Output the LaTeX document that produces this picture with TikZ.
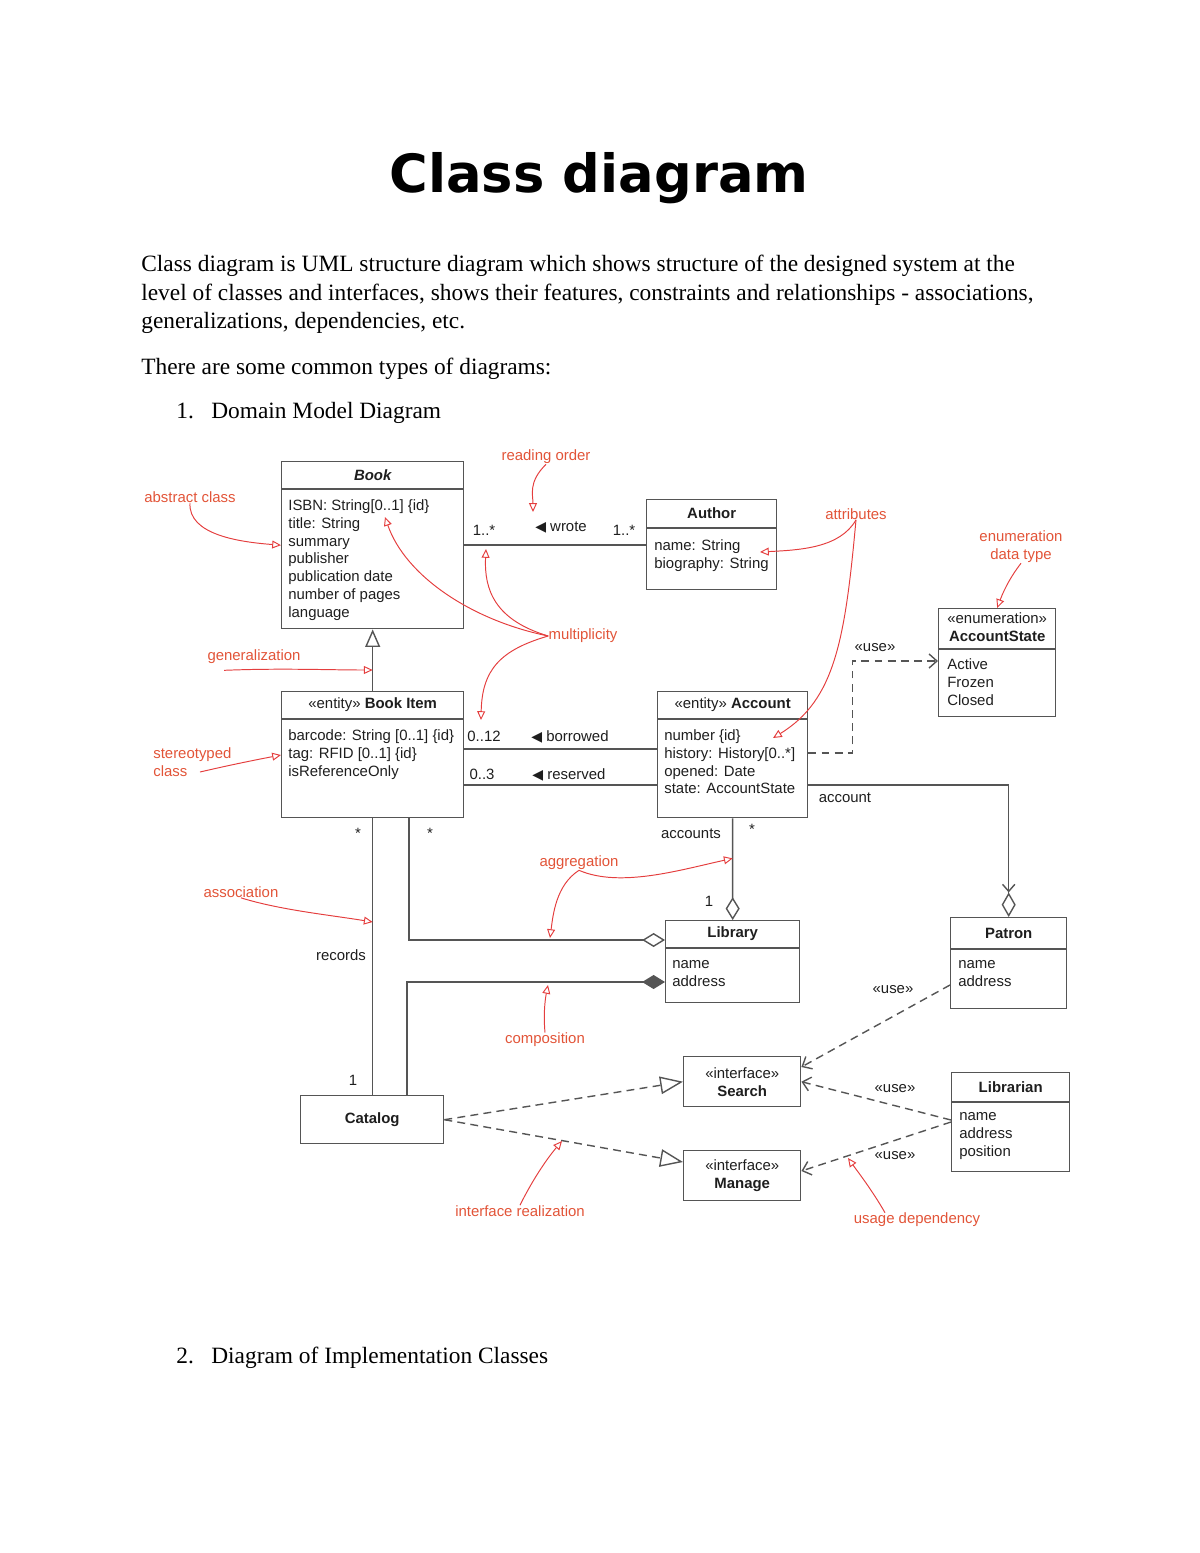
\documentclass[tikz,border=0pt]{standalone}
\usepackage{fontspec}
\setmainfont{Liberation Serif}
\newfontfamily\umlfont{Liberation Sans}
\newfontfamily\headfont{DejaVu Sans}
\usetikzlibrary{arrows.meta}
\usetikzlibrary{calc}
\definecolor{umlline}{RGB}{85,85,85}
\definecolor{umltext}{RGB}{30,30,30}
\definecolor{notetext}{RGB}{226,84,56}
\definecolor{noteline}{RGB}{228,62,62}
\newcommand{\rdir}{{\headfont\fontsize{8}{8}\selectfont ◀}}

\begin{document}
\begin{tikzpicture}
[x=0.02cm,y=-0.02cm,%
  cls/.style={draw=umlline,line width=0.8pt,anchor=north west,inner sep=0pt},%
  sep/.style={draw=umlline,line width=0.8pt},%
  hd/.style={inner sep=0pt,text=umltext,font=\umlfont\fontsize{8.5}{10.2}\selectfont\bfseries},%
  attr/.style={anchor=north west,align=left,inner sep=0pt,text=umltext,%
    font=\umlfont\fontsize{8.5}{10.2}\selectfont,execute at begin node=\strut},%
  lbl/.style={inner sep=0pt,text=umltext,font=\umlfont\fontsize{8.5}{10.2}\selectfont},%
  note/.style={inner sep=0pt,text=notetext,font=\umlfont\fontsize{8.5}{10.2}\selectfont},%
  txt/.style={anchor=base west,inner sep=0pt,font=\fontsize{13.3}{16}\selectfont},%
  assoc/.style={draw=umlline,line width=0.8pt},%
  dep/.style={assoc,dash pattern=on 4.5pt off 3pt},%
  gen/.style={assoc,-{Triangle[open,length=10pt,width=8.5pt]}},%
  real/.style={dep,-{Triangle[open,length=13pt,width=10pt]}},%
  usedep/.style={dep,-{Straight Barb[length=4.5pt,width=8pt]}},%
  agg/.style={assoc,-{Diamond[open,length=13pt,width=8pt]}},%
  comp/.style={assoc,-{Diamond[length=13pt,width=8pt]}},%
  ptr/.style={draw=noteline,line width=0.55pt,-{Triangle[open,length=5pt,width=4.5pt]}}]
\useasboundingbox (0,0) rectangle (1200,1553);

\node[anchor=base,inner sep=0pt,font=\headfont\fontsize{30}{36}\selectfont\bfseries] (title) at (599,192) {Class diagram};
\node[txt] (p1) at (141,271) {Class diagram is UML structure diagram which shows structure of the designed system at the};
\node[txt] (p2) at (141,300) {level of classes and interfaces, shows their features, constraints and relationships - associations,};
\node[txt] (p3) at (141,328) {generalizations, dependencies, etc.};
\node[txt] (p4) at (141,374) {There are some common types of diagrams:};
\node[txt] (n1) at (176,418) {1.};
\node[txt] (i1) at (211,418) {Domain Model Diagram};
\node[txt] (n2) at (176,1363) {2.};
\node[txt] (i2) at (211,1363) {Diagram of Implementation Classes};

\node[cls,minimum width=3.64cm,minimum height=3.34cm] (book) at (281,461) {};
\node[hd] (bookH) at ($(book.north)+(0,14)$) {\itshape Book};
\node[attr] (bookA) at ($(book.north west)+(7,38)$) {ISBN: String[0..1] \{id\}\\title: String\\summary\\publisher\\publication date\\number of pages\\language};
\draw[sep] ($(book.north west)+(0,28)$) -- ($(book.north east)+(0,28)$);

\node[cls,minimum width=2.6cm,minimum height=1.8cm] (author) at (646,499) {};
\node[hd] (authorH) at ($(author.north)+(0,14)$) {Author};
\node[attr] (authorA) at ($(author.north west)+(8,40)$) {name: String\\biography: String};
\draw[sep] ($(author.north west)+(0,29)$) -- ($(author.north east)+(0,29)$);

\node[cls,minimum width=2.34cm,minimum height=2.16cm] (accstate) at (938,608) {};
\node[hd,align=center] (accstateH) at ($(accstate.north)+(0,19)$) {\mdseries «enumeration»\\AccountState};
\node[attr] (accstateA) at ($(accstate.north west)+(9,50)$) {Active\\Frozen\\Closed};
\draw[sep] ($(accstate.north west)+(0,41)$) -- ($(accstate.north east)+(0,41)$);

\node[cls,minimum width=3.64cm,minimum height=2.52cm] (bookitem) at (281,691) {};
\node[hd] (bookitemH) at ($(bookitem.north)+(0,14)$) {\mdseries «entity» \bfseries Book Item};
\node[attr] (bookitemA) at ($(bookitem.north west)+(7,38)$) {barcode: String [0..1] \{id\}\\tag: RFID [0..1] \{id\}\\isReferenceOnly};
\draw[sep] ($(bookitem.north west)+(0,28)$) -- ($(bookitem.north east)+(0,28)$);

\node[cls,minimum width=3cm,minimum height=2.52cm] (account) at (657,691) {};
\node[hd] (accountH) at ($(account.north)+(0,14)$) {\mdseries «entity» \bfseries Account};
\node[attr] (accountA) at ($(account.north west)+(7,38)$) {number \{id\}\\history: History[0..*]\\opened: Date\\state: AccountState};
\draw[sep] ($(account.north west)+(0,28)$) -- ($(account.north east)+(0,28)$);

\node[cls,minimum width=2.68cm,minimum height=1.64cm] (library) at (665,920) {};
\node[hd] (libraryH) at ($(library.north)+(0,14)$) {Library};
\node[attr] (libraryA) at ($(library.north west)+(7,40)$) {name\\address};
\draw[sep] ($(library.north west)+(0,28)$) -- ($(library.north east)+(0,28)$);

\node[cls,minimum width=2.32cm,minimum height=1.82cm] (patron) at (950,917) {};
\node[hd] (patronH) at ($(patron.north)+(0,16)$) {Patron};
\node[attr] (patronA) at ($(patron.north west)+(8,43)$) {name\\address};
\draw[sep] ($(patron.north west)+(0,32)$) -- ($(patron.north east)+(0,32)$);

\node[cls,minimum width=2.86cm,minimum height=0.96cm] (catalog) at (300,1095) {};
\node[hd] (catalogH) at (catalog.center) {Catalog};

\node[cls,minimum width=2.34cm,minimum height=1cm] (search) at (683,1056) {};
\node[hd,align=center] (searchH) at (search.center) {\mdseries «interface»\\Search};

\node[cls,minimum width=2.34cm,minimum height=1cm] (manage) at (683,1150) {};
\node[hd,align=center] (manageH) at (manage.center) {\mdseries «interface»\\Manage};

\node[cls,minimum width=2.36cm,minimum height=1.98cm] (librarian) at (951,1072) {};
\node[hd] (librarianH) at ($(librarian.north)+(0,15)$) {Librarian};
\node[attr] (librarianA) at ($(librarian.north west)+(8,40)$) {name\\address\\position};
\draw[sep] ($(librarian.north west)+(0,30)$) -- ($(librarian.north east)+(0,30)$);

\draw[assoc] (book.east) -- (book.east -| author.west);
\draw[gen] (bookitem.north) -- (book.south);
\draw[assoc] ($(bookitem.north east)+(0,58)$) -- ($(account.north west)+(0,58)$);
\draw[assoc] ($(bookitem.north east)+(0,94)$) -- ($(account.north west)+(0,94)$);
\draw[usedep] ($(account.north east)+(0,62)$) -- ++(44,0) |- ($(accstate.north west)+(0,53)$);
\draw[assoc,-{Straight Barb[length=4pt,width=7pt] Diamond[open,length=14pt,width=8pt]}] ($(account.north east)+(0,94)$) -| (patron.north);
\draw[agg] (account.south) -- (library.north);
\draw[agg] ($(bookitem.south west)+(128,0)$) |- ($(library.north west)+(0,20)$);
\draw[assoc] (bookitem.south) -- (bookitem.south |- catalog.north);
\draw[comp] ($(catalog.north west)+(107,0)$) |- ($(library.north west)+(0,62)$);
\draw[real] (catalog.east) -- (search.west);
\draw[real] (catalog.east) -- ($(manage.north west)+(0,12)$);
\draw[usedep] ($(patron.north west)+(0,68)$) -- ($(search.north east)+(0,11)$);
\draw[usedep] ($(librarian.north west)+(0,48)$) -- (search.east);
\draw[usedep] ($(librarian.north west)+(0,50)$) -- ($(manage.north east)+(0,21)$);

\node[lbl] (m1) at (484,530) {1..*};
\node[lbl] (wrote) at (561,528) {\rdir\ wrote};
\node[lbl] (m2) at (624,530) {1..*};
\node[lbl] (m3) at (484,736) {0..12};
\node[lbl] (borrowed) at (570,737) {\rdir\ borrowed};
\node[lbl] (m4) at (482,774) {0..3};
\node[lbl] (reserved) at (569,775) {\rdir\ reserved};
\node[lbl] (use1) at (875,648) {«use»};
\node[lbl] (rolea) at (845,798) {account};
\node[lbl] (roleb) at (691,834) {accounts};
\node[lbl] (m5) at (752,829) {*};
\node[lbl] (m6) at (709,901) {1};
\node[lbl] (m7) at (358,833) {*};
\node[lbl] (m8) at (430,833) {*};
\node[lbl] (records) at (341,955) {records};
\node[lbl] (m9) at (353,1080) {1};
\node[lbl] (use2) at (893,990) {«use»};
\node[lbl] (use3) at (895,1089) {«use»};
\node[lbl] (use4) at (895,1156) {«use»};

\node[note] (nabs) at (190,497) {abstract class};
\node[note] (nread) at (546,457) {reading order};
\node[note] (nattr) at (856,514) {attributes};
\node[note,align=center] (nenum) at (1021,547) {enumeration\\data type};
\node[note] (nmult) at (583,636) {multiplicity};
\node[note] (ngen) at (254,657) {generalization};
\node[note,align=left,anchor=west] (nster) at (153,762) {stereotyped\\class};
\node[note] (nassoc) at (241,892) {association};
\node[note] (nagg) at (579,863) {aggregation};
\node[note] (ncomp) at (545,1040) {composition};
\node[note] (nreal) at (520,1211) {interface realization};
\node[note] (nuse) at (917,1220) {usage dependency};

\draw[ptr] (nabs.south) .. controls (188,535) and (240,542) .. (book.west);
\draw[ptr] (nread.south) .. controls (528,482) and (533,495) .. (533,512);
\draw[ptr] (nattr.south) .. controls (840,548) and (800,550) .. ($(author.north west)+(114,53)$);
\draw[ptr] (nattr.south) .. controls (845,640) and (835,700) .. ($(account.north west)+(116,47)$);
\draw[ptr] (nenum.south) .. controls (1008,580) and (1002,595) .. (accstate.north);
\draw[ptr] (nmult.west) .. controls (470,620) and (405,575) .. ($(book.north west)+(104,56)$);
\draw[ptr] (nmult.west) .. controls (495,620) and (484,590) .. (486,549);
\draw[ptr] (nmult.west) .. controls (500,650) and (482,670) .. (481,720);
\draw[ptr] ($(ngen.south west)+(17,6)$) .. controls (280,668) and (330,670) .. (bookitem.north |- 0,670);
\draw[ptr] ($(nster.west)+(47,10)$) .. controls (230,765) and (255,760) .. (bookitem.west |- 0,755);
\draw[ptr] (nassoc.south) .. controls (280,910) and (330,915) .. (bookitem.south |- 0,922);
\draw[ptr] (nagg.south) .. controls (620,888) and (680,870) .. ($(account.south)+(0,40)$);
\draw[ptr] (nagg.south) .. controls (556,885) and (553,915) .. (550,938);
\draw[ptr] (ncomp.north) .. controls (543,1010) and (546,995) .. (548,985);
\draw[ptr] (nreal.north) .. controls (535,1175) and (550,1155) .. (562,1141);
\draw[ptr] ($(nuse.north)+(-32,0)$) .. controls (872,1190) and (858,1172) .. (848,1158);
\end{tikzpicture}
\end{document}
